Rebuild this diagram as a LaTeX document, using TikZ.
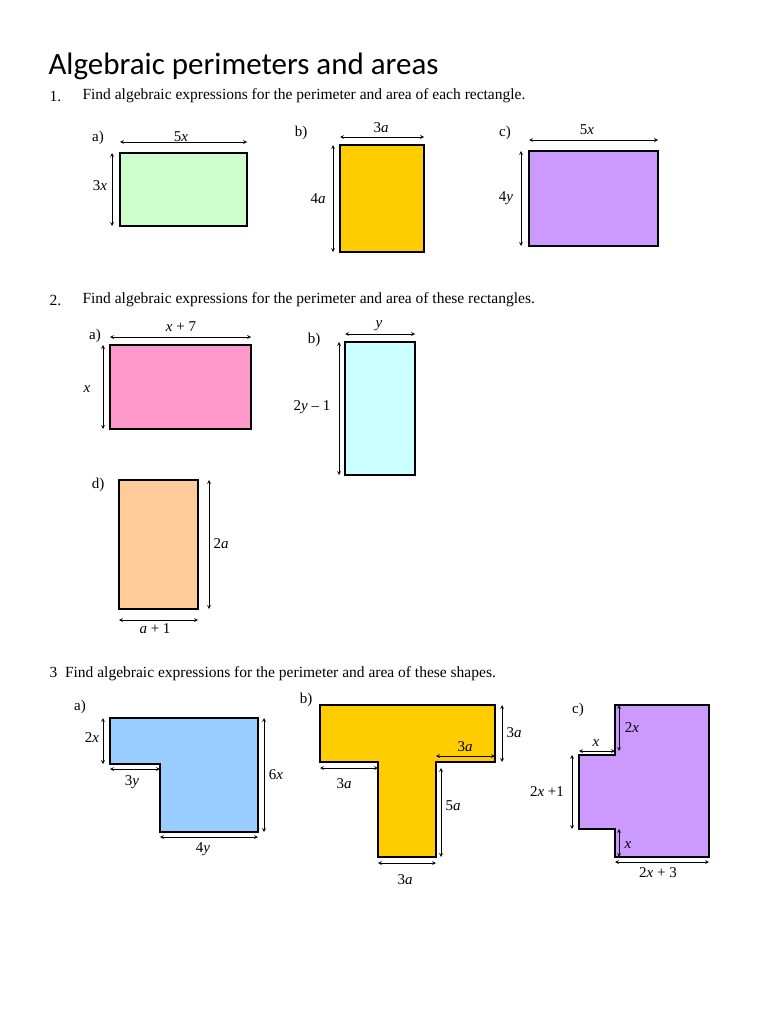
\documentclass[tikz,border=0pt]{standalone}
\usepackage{fontspec}
\setmainfont{Liberation Serif}
\newfontfamily\titlefont{Carlito}
\begin{document}
\begin{tikzpicture}[x=1pt,y=-1pt,
  shp/.style={draw=black,line width=1.6pt},
  dim/.style={<->,>=stealth,line width=0.7pt},
  lbl/.style={font=\fontsize{15}{15}\selectfont},
  qt/.style={font=\fontsize{15.5}{16}\selectfont,anchor=west}]
\useasboundingbox (0,0) rectangle (768,1024);
\fill[white] (0,0) rectangle (768,1024);
\node[anchor=west,font=\titlefont\fontsize{31}{31}\selectfont] (title) at (45,66) {Algebraic perimeters and areas};
\node[qt] (q1n) at (46,96) {1.};
\node[qt] (q1) at (79,96) {Find algebraic expressions for the perimeter and area of each rectangle.};
\node[qt] (q2n) at (46,300) {2.};
\node[qt] (q2) at (79,300) {Find algebraic expressions for the perimeter and area of these rectangles.};
\node[qt] (q3) at (46,674) {3\ \ Find algebraic expressions for the perimeter and area of these shapes.};
% Q1
\node[lbl] (l1a) at (98,138) {a)};
\draw[shp,fill={rgb,255:red,204;green,255;blue,204}] (120,153) rectangle (247,226);
\coordinate (a1) at (120,142); \coordinate (a2) at (247,142);
\draw[dim] (a1) -- (a2); \node[lbl] (t1) at (181,137) {5\textit{x}};
\coordinate (a3) at (112,153); \coordinate (a4) at (112,226);
\draw[dim] (a3) -- (a4); \node[lbl] (t2) at (100,186) {3\textit{x}};
\node[lbl] (l1b) at (301,133) {b)};
\draw[shp,fill={rgb,255:red,255;green,204;blue,0}] (340,145) rectangle (424,252);
\coordinate (b1) at (340,137); \coordinate (b2) at (424,137);
\draw[dim] (b1) -- (b2); \node[lbl] (t3) at (381,128) {3\textit{a}};
\coordinate (b3) at (333,145); \coordinate (b4) at (333,252);
\draw[dim] (b3) -- (b4); \node[lbl] (t4) at (318,199) {4\textit{a}};
\node[lbl] (l1c) at (505,133) {c)};
\draw[shp,fill={rgb,255:red,204;green,153;blue,255}] (529,151) rectangle (658,246);
\coordinate (c1) at (529,140); \coordinate (c2) at (658,140);
\draw[dim] (c1) -- (c2); \node[lbl] (t5) at (587,130) {5\textit{x}};
\coordinate (c3) at (521,151); \coordinate (c4) at (521,246);
\draw[dim] (c3) -- (c4); \node[lbl] (t6) at (506,198) {4\textit{y}};
% Q2
\node[lbl] (l2a) at (95,336) {a)};
\draw[shp,fill={rgb,255:red,255;green,153;blue,204}] (110,345) rectangle (251,429);
\coordinate (d1) at (110,337); \coordinate (d2) at (251,337);
\draw[dim] (d1) -- (d2); \node[lbl] (t7) at (181,327) {\textit{x} + 7};
\coordinate (d3) at (103,345); \coordinate (d4) at (103,429);
\draw[dim] (d3) -- (d4); \node[lbl] (t8) at (87,389) {\textit{x}};
\node[lbl] (l2b) at (314,340) {b)};
\draw[shp,fill={rgb,255:red,204;green,255;blue,255}] (345,342) rectangle (415,475);
\coordinate (e1) at (345,334); \coordinate (e2) at (415,334);
\draw[dim] (e1) -- (e2); \node[lbl] (t9) at (379,326) {\textit{y}};
\coordinate (e3) at (339,342); \coordinate (e4) at (339,475);
\draw[dim] (e3) -- (e4); \node[lbl] (t10) at (312,407) {2\textit{y} – 1};
\node[lbl] (l2d) at (98,485) {d)};
\draw[shp,fill={rgb,255:red,255;green,204;blue,153}] (119,480) rectangle (198,609);
\coordinate (f1) at (209,480); \coordinate (f2) at (209,609);
\draw[dim] (f1) -- (f2); \node[lbl] (t11) at (221,544) {2\textit{a}};
\coordinate (f3) at (119,620); \coordinate (f4) at (198,620);
\draw[dim] (f3) -- (f4); \node[lbl] (t12) at (155,629) {\textit{a} + 1};
% Q3 a
\node[lbl] (l3a) at (80,707) {a)};
\draw[shp,fill={rgb,255:red,153;green,204;blue,255}] (110,718) -- (258,718) -- (258,832) -- (160,832) -- (160,764) -- (110,764) -- cycle;
\coordinate (g1) at (103,718); \coordinate (g2) at (103,764);
\draw[dim] (g1) -- (g2); \node[lbl] (t13) at (92,738) {2\textit{x}};
\coordinate (g3) at (110,769); \coordinate (g4) at (160,769);
\draw[dim] (g3) -- (g4); \node[lbl] (t14) at (132,782) {3\textit{y}};
\coordinate (g5) at (264,718); \coordinate (g6) at (264,832);
\draw[dim] (g5) -- (g6); \node[lbl] (t15) at (276,775) {6\textit{x}};
\coordinate (g7) at (160,837); \coordinate (g8) at (258,837);
\draw[dim] (g7) -- (g8); \node[lbl] (t16) at (203,849) {4\textit{y}};
% Q3 b
\node[lbl] (l3b) at (306,700) {b)};
\draw[shp,fill={rgb,255:red,255;green,204;blue,0}] (320,705) -- (495,705) -- (495,762) -- (436,762) -- (436,857) -- (378,857) -- (378,762) -- (320,762) -- cycle;
\coordinate (h1) at (502,705); \coordinate (h2) at (502,762);
\draw[dim] (h1) -- (h2); \node[lbl] (t17) at (514,733) {3\textit{a}};
\coordinate (h3) at (436,756); \coordinate (h4) at (495,756);
\draw[dim] (h3) -- (h4); \node[lbl] (t18) at (465,747) {3\textit{a}};
\coordinate (h5) at (320,768); \coordinate (h6) at (378,768);
\draw[dim] (h5) -- (h6); \node[lbl] (t19) at (344,784) {3\textit{a}};
\coordinate (h7) at (441,768); \coordinate (h8) at (441,857);
\draw[dim] (h7) -- (h8); \node[lbl] (t20) at (453,806) {5\textit{a}};
\coordinate (h9) at (378,863); \coordinate (h10) at (436,863);
\draw[dim] (h9) -- (h10); \node[lbl] (t21) at (405,880) {3\textit{a}};
% Q3 c
\node[lbl] (l3c) at (578,710) {c)};
\draw[shp,fill={rgb,255:red,204;green,153;blue,255}] (615,705) -- (709,705) -- (709,857) -- (615,857) -- (615,829) -- (579,829) -- (579,755) -- (615,755) -- cycle;
\coordinate (k1) at (579,751); \coordinate (k2) at (615,751);
\draw[dim] (k1) -- (k2); \node[lbl] (t22) at (596,743) {\textit{x}};
\coordinate (k3) at (619,705); \coordinate (k4) at (619,751);
\draw[dim] (k3) -- (k4); \node[lbl] (t23) at (632,728) {2\textit{x}};
\coordinate (k5) at (572,755); \coordinate (k6) at (572,829);
\draw[dim] (k5) -- (k6); \node[lbl] (t24) at (547,792) {2\textit{x} +1};
\coordinate (k7) at (619,829); \coordinate (k8) at (619,857);
\draw[dim] (k7) -- (k8); \node[lbl] (t25) at (628,845) {\textit{x}};
\coordinate (k9) at (615,862); \coordinate (k10) at (709,862);
\draw[dim] (k9) -- (k10); \node[lbl] (t26) at (658,873) {2\textit{x} + 3};
\end{tikzpicture}
\end{document}
